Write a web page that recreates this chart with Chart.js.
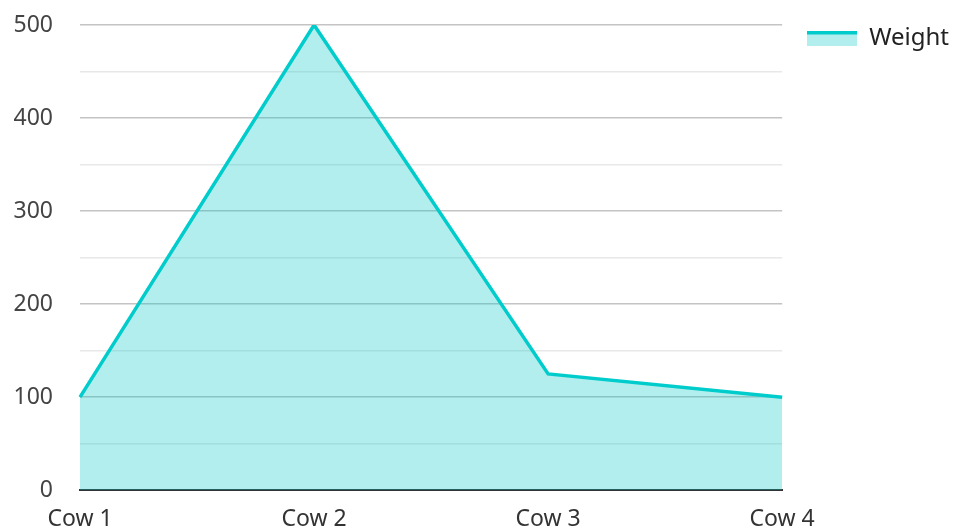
<!DOCTYPE html>
<html>
<head>
<meta charset="utf-8">
<script src="https://cdn.jsdelivr.net/npm/chart.js@4"></script>
<style>
  html, body { margin: 0; padding: 0; background: #fff; }
  #wrap { width: 953px; height: 531px; }
</style>
</head>
<body>
<div id="wrap"><canvas id="chart"></canvas></div>
<script>
const categories = ['Cow 1', 'Cow 2', 'Cow 3', 'Cow 4'];
const weights = [100, 500, 125, 100];
const seriesName = 'Weight';

const font = 'Noto Sans';
const lineColor = '#00cccc';
const fillColor = 'rgba(0, 200, 200, 0.3)';

// legend swatch: light fill with the line along its top edge
const swatch = document.createElement('canvas');
swatch.width = 50;
swatch.height = 15;
const sw = swatch.getContext('2d');
sw.fillStyle = fillColor;
sw.fillRect(0, 0, 50, 15);
sw.fillStyle = lineColor;
sw.fillRect(0, 0, 50, 4);

// widen the legend box so there is a gap between plot and swatch
const legendGap = {
    id: 'legendGap',
    beforeLayout(chart) {
        const lg = chart.legend;
        if (lg && !lg._gapWrapped) {
            const fit = lg.fit.bind(lg);
            lg.fit = function () { fit(); this.width += 15; };
            lg._gapWrapped = true;
        }
    },
    afterLayout(chart) {
        if (chart.legend) {
            chart.legend.left += 15;
            chart.legend.top -= 9;
        }
    }
};

new Chart(document.getElementById('chart').getContext('2d'), {
    type: 'line',
    data: {
        labels: categories,
        datasets: [{
            label: seriesName,
            data: weights,
            borderColor: lineColor,
            backgroundColor: fillColor,
            borderWidth: 3.5,
            fill: 'origin',
            pointRadius: 0,
            tension: 0
        }]
    },
    options: {
        responsive: true,
        maintainAspectRatio: false,
        animation: false,
        layout: { padding: { top: 25, right: -6, left: 0, bottom: 0 } },
        scales: {
            x: {
                offset: false,
                grid: { display: false, drawTicks: false },
                border: { color: '#333', width: 2 },
                ticks: { color: '#333', padding: 15, maxRotation: 0, font: { family: font, size: 23 } },
                afterFit: s => { s.height = 38; }
            },
            y: {
                min: 0,
                max: 500,
                ticks: {
                    stepSize: 50,
                    color: '#444',
                    padding: 27,
                    font: { family: font, size: 23 },
                    callback: v => (v % 100 === 0 ? v : '')
                },
                grid: {
                    drawTicks: false,
                    color: ctx => (ctx.tick && ctx.tick.value % 100 === 0 ? '#c4c4c4' : '#e8e8e8'),
                    lineWidth: 1.5
                },
                border: { display: false },
                afterFit: s => { s.width = 80; s.paddingTop = 0; }
            }
        },
        plugins: {
            legend: {
                position: 'right',
                align: 'start',
                labels: {
                    usePointStyle: true,
                    pointStyle: swatch,
                    pointStyleWidth: 50,
                    boxHeight: 15,
                    color: '#222',
                    padding: 10,
                    font: { family: font, size: 24 }
                }
            },
            tooltip: { enabled: false }
        }
    },
    plugins: [legendGap]
});
</script>
</body>
</html>
